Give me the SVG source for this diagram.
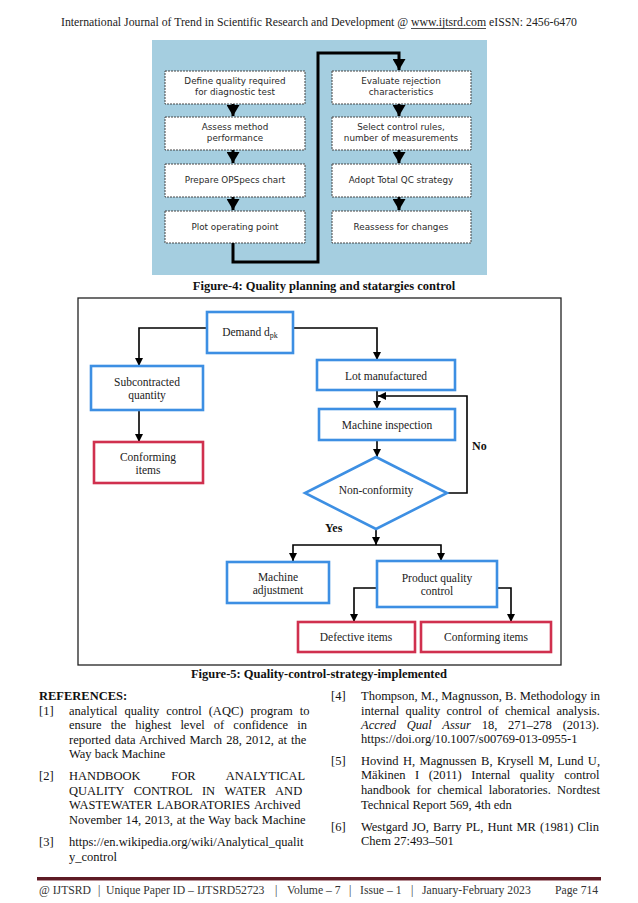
<svg xmlns="http://www.w3.org/2000/svg" width="638" height="903" viewBox="0 0 638 903">
<style>
.hdr{font-family:"Liberation Serif",serif;font-size:12.5px;fill:#222}
.cap{font-family:"Liberation Serif",serif;font-size:12.5px;font-weight:bold;fill:#111}
.f4box{fill:#fff;stroke:#444;stroke-width:1;stroke-dasharray:2,1}
.f4t{font-family:"DejaVu Sans",Verdana,sans-serif;font-size:8.8px;fill:#2a2a2a;text-anchor:middle}
.f4c{fill:none;stroke:#000;stroke-width:3}
.blue{fill:#fff;stroke:#3d8fe3;stroke-width:2.6}
.red{fill:#fff;stroke:#d0304e;stroke-width:2.6}
.f5t{font-family:"Liberation Serif",serif;font-size:11.5px;fill:#222;text-anchor:middle}
.f5c{fill:none;stroke:#000;stroke-width:1.6}
.lbl{font-family:"Liberation Serif",serif;font-size:12px;font-weight:bold;fill:#111}
.ref{font-family:"Liberation Serif",serif;font-size:12.5px;fill:#111}
.ftr{font-family:"Liberation Serif",serif;font-size:11.7px;fill:#333}
</style>
<defs>
<marker id="a4" viewBox="0 0 11 13" refX="11" refY="6.5" markerWidth="11" markerHeight="13" markerUnits="userSpaceOnUse" orient="auto"><path d="M0,0 L11,6.5 L0,13 z" fill="#000"/></marker>
<marker id="a5" viewBox="0 0 8 8" refX="8" refY="4" markerWidth="8" markerHeight="8" markerUnits="userSpaceOnUse" orient="auto"><path d="M0,0 L8,4 L0,8 z" fill="#000"/></marker>
</defs>
<rect x="0" y="0" width="638" height="903" fill="#fff"/>

<!-- Header -->
<text class="hdr" x="61" y="26" textLength="516" lengthAdjust="spacingAndGlyphs">International Journal of Trend in Scientific Research and Development @ www.ijtsrd.com eISSN: 2456-6470</text>
<line x1="411" y1="28.5" x2="486" y2="28.5" stroke="#222" stroke-width="0.8"/>

<!-- Figure 4 -->
<g id="figure4">
<rect x="152" y="40" width="335" height="235" fill="#a5cee0"/>
<g id="f4n1"><rect class="f4box" x="165" y="71" width="140" height="33"/><text class="f4t" x="235" y="84">Define quality required</text><text class="f4t" x="235" y="95">for diagnostic test</text></g>
<g id="f4n2"><rect class="f4box" x="165" y="117" width="140" height="33"/><text class="f4t" x="235" y="130">Assess method</text><text class="f4t" x="235" y="141">performance</text></g>
<g id="f4n3"><rect class="f4box" x="165" y="164" width="140" height="33"/><text class="f4t" x="235" y="183">Prepare OPSpecs chart</text></g>
<g id="f4n4"><rect class="f4box" x="165" y="211" width="140" height="32"/><text class="f4t" x="235" y="230">Plot operating point</text></g>
<g id="f4n5"><rect class="f4box" x="332" y="71" width="139" height="33"/><text class="f4t" x="401" y="84">Evaluate rejection</text><text class="f4t" x="401" y="95">characteristics</text></g>
<g id="f4n6"><rect class="f4box" x="332" y="117" width="139" height="33"/><text class="f4t" x="401" y="130">Select control rules,</text><text class="f4t" x="401" y="141">number of measurements</text></g>
<g id="f4n7"><rect class="f4box" x="332" y="164" width="139" height="33"/><text class="f4t" x="401" y="183">Adopt Total QC strategy</text></g>
<g id="f4n8"><rect class="f4box" x="332" y="211" width="139" height="32"/><text class="f4t" x="401" y="230">Reassess for changes</text></g>
<g id="f4connectors">
<path class="f4c" d="M233,104 V116" marker-end="url(#a4)"/>
<path class="f4c" d="M233,150 V163" marker-end="url(#a4)"/>
<path class="f4c" d="M233,197 V210" marker-end="url(#a4)"/>
<path class="f4c" d="M399,104 V116" marker-end="url(#a4)"/>
<path class="f4c" d="M399,150 V163" marker-end="url(#a4)"/>
<path class="f4c" d="M399,197 V210" marker-end="url(#a4)"/>
<path class="f4c" d="M233,243 V262 H318 V53 H399 V70" marker-end="url(#a4)"/>
</g>
</g>
<text class="cap" x="324" y="290" text-anchor="middle">Figure-4: Quality planning and statargies control</text>

<!-- Figure 5 -->
<rect x="78" y="298" width="483" height="367" fill="none" stroke="#222" stroke-width="1.3"/>
<g id="f5connectors">
<path class="f5c" d="M207,328 H139 V366" marker-end="url(#a5)"/>
<path class="f5c" d="M293,328 H377 V360" marker-end="url(#a5)"/>
<path class="f5c" d="M139,410 V442" marker-end="url(#a5)"/>
<path class="f5c" d="M377,390 V409" marker-end="url(#a5)"/>
<path class="f5c" d="M377,440 V457" marker-end="url(#a5)"/>
<path class="f5c" d="M446,493 H467 V396 H378" marker-end="url(#a5)"/>
<path class="f5c" d="M376,529 V545" marker-end="url(#a5)"/>
<path class="f5c" d="M376,545 H293 V561" marker-end="url(#a5)"/>
<path class="f5c" d="M376,545 H441 V561" marker-end="url(#a5)"/>
<path class="f5c" d="M377,588 H354 V622" marker-end="url(#a5)"/>
<path class="f5c" d="M497,588 H511 V622" marker-end="url(#a5)"/>
</g>
<g id="demand"><rect class="blue" x="207" y="312" width="86" height="41"/><text class="f5t" x="250" y="336">Demand d<tspan font-size="8" dy="2" fill="#222">pk</tspan></text></g>
<g id="subcontracted"><rect class="blue" x="91" y="366" width="112" height="44"/><text class="f5t" x="147" y="386">Subcontracted</text><text class="f5t" x="147" y="399">quantity</text></g>
<g id="conforming1"><rect class="red" x="94" y="442" width="109" height="41"/><text class="f5t" x="148" y="461">Conforming</text><text class="f5t" x="148" y="474">items</text></g>
<g id="lot"><rect class="blue" x="317" y="360" width="138" height="30"/><text class="f5t" x="386" y="380">Lot manufactured</text></g>
<g id="inspection"><rect class="blue" x="319" y="409" width="136" height="31"/><text class="f5t" x="387" y="429">Machine inspection</text></g>
<g id="nonconformity"><polygon class="blue" points="376,457 447,493 376,529 305,493"/><text class="f5t" x="376" y="494">Non-conformity</text></g>
<g id="adjustment"><rect class="blue" x="227" y="562" width="102" height="41"/><text class="f5t" x="278" y="581">Machine</text><text class="f5t" x="278" y="594">adjustment</text></g>
<g id="pqc"><rect class="blue" x="377" y="561" width="120" height="46"/><text class="f5t" x="437" y="582">Product quality</text><text class="f5t" x="437" y="595">control</text></g>
<g id="defective"><rect class="red" x="298" y="622" width="117" height="30"/><text class="f5t" x="356" y="641">Defective items</text></g>
<g id="conforming2"><rect class="red" x="421" y="622" width="130" height="30"/><text class="f5t" x="486" y="641">Conforming items</text></g>
<text class="lbl" x="472" y="450">No</text>
<text class="lbl" x="325" y="532">Yes</text>
<text class="cap" x="319" y="678" text-anchor="middle">Figure-5: Quality-control-strategy-implemented</text>

<!-- References -->
<g class="ref">
<text x="39" y="700" font-weight="bold">REFERENCES:</text>
<text x="39" y="715">[1]</text>
<text x="69" y="715" word-spacing="3.87">analytical quality control (AQC) program to</text>
<text x="69" y="729" word-spacing="6">ensure the highest level of confidence in</text>
<text x="69" y="744" word-spacing="0.93">reported data Archived March 28, 2012, at the</text>
<text x="69" y="758">Way back Machine</text>
<text x="39" y="780">[2]</text>
<text x="69" y="780" word-spacing="27.7">HANDBOOK FOR ANALYTICAL</text>
<text x="69" y="795" word-spacing="6.5">QUALITY CONTROL IN WATER AND</text>
<text x="69" y="809" word-spacing="1.3">WASTEWATER LABORATORIES Archived</text>
<text x="69" y="824" word-spacing="0.6">November 14, 2013, at the Way back Machine</text>
<text x="39" y="846">[3]</text>
<text x="69" y="846">https://en.wikipedia.org/wiki/Analytical_qualit</text>
<text x="69" y="861">y_control</text>

<text x="331" y="700">[4]</text>
<text x="361" y="700">Thompson, M., Magnusson, B. Methodology in</text>
<text x="361" y="715" word-spacing="3.2">internal quality control of chemical analysis.</text>
<text x="361" y="729" word-spacing="7.7"><tspan font-style="italic">Accred Qual Assur</tspan> 18, 271–278 (2013).</text>
<text x="361" y="743">https://doi.org/10.1007/s00769-013-0955-1</text>
<text x="331" y="765">[5]</text>
<text x="361" y="765" word-spacing="1.36">Hovind H, Magnussen B, Krysell M, Lund U,</text>
<text x="361" y="779" word-spacing="6.5">Mäkinen I (2011) Internal quality control</text>
<text x="361" y="794" word-spacing="3.1">handbook for chemical laboratories. Nordtest</text>
<text x="361" y="809">Technical Report 569, 4th edn</text>
<text x="331" y="831">[6]</text>
<text x="361" y="831" word-spacing="0.96">Westgard JO, Barry PL, Hunt MR (1981) Clin</text>
<text x="361" y="845">Chem 27:493–501</text>
</g>

<!-- Footer -->
<rect x="37" y="877" width="564" height="3" fill="#5e1b24"/>
<rect x="37" y="880" width="564" height="1" fill="#b89096"/>
<g class="ftr">
<text x="39" y="894">@ IJTSRD</text>
<text x="98" y="894">|</text>
<text x="106" y="894">Unique Paper ID – IJTSRD52723</text>
<text x="275" y="894">|</text>
<text x="287" y="894">Volume – 7</text>
<text x="349" y="894">|</text>
<text x="360" y="894">Issue – 1</text>
<text x="411" y="894">|</text>
<text x="422" y="894">January-February 2023</text>
<text x="555" y="894">Page 714</text>
</g>
</svg>
